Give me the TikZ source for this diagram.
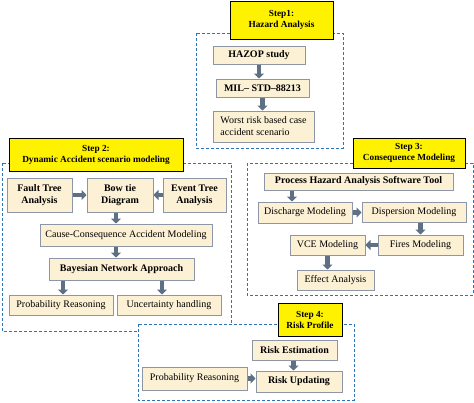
\documentclass[tikz,border=0pt]{standalone}
\usepackage{fontspec}
\setmainfont{Liberation Serif}
\usetikzlibrary{calc,positioning}
\usetikzlibrary{arrows.meta}
\definecolor{boxfill}{RGB}{252,241,212}
\definecolor{boxline}{RGB}{140,150,165}
\definecolor{framecol}{RGB}{46,117,182}
\definecolor{arrowcol}{RGB}{96,112,132}

\begin{document}
\begin{tikzpicture}[x=1pt, y=-1pt]
          \tikzstyle{snode} = [draw=black, line width=0.8pt, fill=yellow, inner sep=1pt, align=center, font=\bfseries\fontsize{9.3}{11}\selectfont]
          \tikzstyle{bnode} = [draw=boxline, line width=1pt, fill=boxfill, inner sep=1pt, align=center, font=\fontsize{10}{12}\selectfont]
          \tikzstyle{bbnode} = [bnode, font=\bfseries\fontsize{10}{12}\selectfont]
          \tikzstyle{frame} = [draw=framecol, line width=1pt, dash pattern=on 3pt off 2pt]
          \tikzstyle{barrow} = [draw=arrowcol, line width=4.5pt, -{Triangle[width=10pt,length=5pt]}]
          \useasboundingbox (0,0) rectangle (474,402);

          \draw[frame] (196,33) rectangle (343,148);
          \draw[frame] (2,163) rectangle (231,331);
          \draw[frame] (247,163) rectangle (473,295);
          \draw[frame, fill=white] (138,324) rectangle (354,400);

          \node[snode, minimum width=103, minimum height=38] (st1) at (281.5,20) {Step1:\\Hazard Analysis};
          \node[snode, minimum width=174, minimum height=33] (st2) at (96,154.5) {Step 2:\\Dynamic Accident scenario modeling};
          \node[snode, minimum width=112, minimum height=30] (st3) at (409,153) {Step 3:\\Consequence Modeling};
          \node[snode, minimum width=64, minimum height=33] (st4) at (310,319.5) {Step 4:\\Risk Profile};

          \node[bbnode, minimum width=92, minimum height=18] (hazop) at (259,55) {HAZOP study};
          \node[bbnode, minimum width=93, minimum height=18] (mil) at (262.5,88) {MIL– STD–88213};
          \node[bnode, align=left, minimum width=101, minimum height=31] (worst) at (263.5,126.5) {Worst risk based case\\accident scenario};

          \node[bbnode, minimum width=65, minimum height=34] (fta) at (39.5,195) {Fault Tree\\Analysis};
          \node[bbnode, minimum width=66, minimum height=34] (bow) at (120,195) {Bow tie\\Diagram};
          \node[bbnode, minimum width=63, minimum height=34] (eta) at (194.5,195) {Event Tree\\Analysis};
          \node[bnode, minimum width=172, minimum height=22] (ccam) at (126,235) {Cause-Consequence Accident Modeling};
          \node[bbnode, minimum width=145, minimum height=22] (bna) at (121.5,269) {Bayesian Network Approach};
          \node[bnode, minimum width=104, minimum height=20] (prob) at (61,305) {Probability Reasoning};
          \node[bnode, minimum width=104, minimum height=20] (unc) at (169,305) {Uncertainty handling};

          \node[bbnode, minimum width=189, minimum height=17] (pha) at (358.5,181.5) {Process Hazard Analysis Software Tool};
          \node[bnode, minimum width=94, minimum height=21] (disc) at (305,212.5) {Discharge Modeling};
          \node[bnode, minimum width=104, minimum height=20] (disp) at (414,212) {Dispersion Modeling};
          \node[bnode, minimum width=85, minimum height=20] (fires) at (420.5,245) {Fires Modeling};
          \node[bnode, minimum width=75, minimum height=20] (vce) at (327.5,245) {VCE Modeling};
          \node[bnode, minimum width=77, minimum height=20] (eff) at (335.5,280) {Effect Analysis};

          \node[bbnode, minimum width=85, minimum height=20] (rest) at (294.5,350) {Risk Estimation};
          \node[bbnode, minimum width=86, minimum height=21] (rupd) at (299,381.5) {Risk Updating};
          \node[bnode, minimum width=105, minimum height=23] (prob2) at (194.5,378.5) {Probability Reasoning};

          \draw[barrow] (hazop.south) -- (hazop.south |- mil.north);
          \draw[barrow] (mil.south) -- (mil.south |- worst.north);
          \draw[barrow] (fta.east) -- (bow.west);
          \draw[barrow] (eta.west) -- (bow.east);
          \draw[barrow] ($(bow.south)+(-4,0)$) -- ($(bow.south |- ccam.north)+(-4,0)$);
          \draw[barrow] ($(bow.south |- ccam.south)+(-4,0)$) -- ($(bow.south |- bna.north)+(-4,0)$);
          \draw[barrow] ($(bna.south -| prob.north)+(2,0)$) -- ($(prob.north)+(2,0)$);
          \draw[barrow] ($(bna.south -| unc.north)+(-7,0)$) -- ($(unc.north)+(-7,0)$);
          \draw[barrow] ($(pha.south -| disc.north)+(-13,0)$) -- ($(disc.north)+(-13,0)$);
          \draw[barrow] (disc.east) -- (disc.east -| disp.west);
          \draw[barrow] (disp.south -| fires.north) -- (fires.north);
          \draw[barrow] (fires.west) -- (vce.east);
          \draw[barrow] (vce.south) -- (vce.south |- eff.north);
          \draw[barrow] ($(rest.south)+(-1,0)$) -- ($(rest.south |- rupd.north)+(-1,0)$);
          \draw[barrow] (prob2.east) -- (prob2.east -| rupd.west);
        \end{tikzpicture}
\end{document}
